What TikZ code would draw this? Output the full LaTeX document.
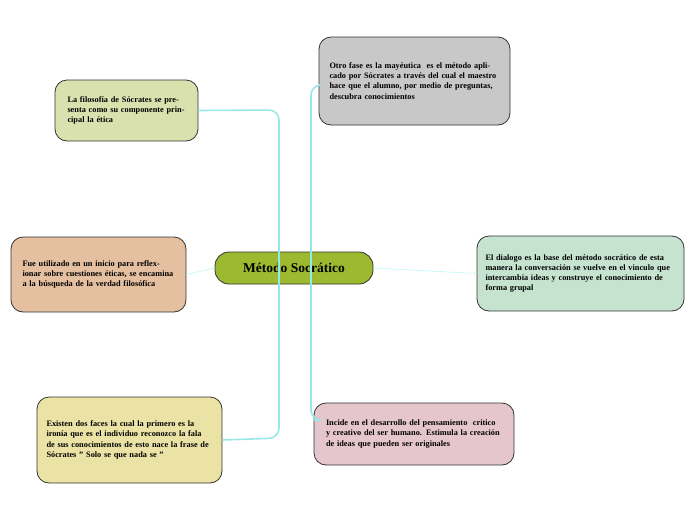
\documentclass[tikz,border=0pt]{standalone}
\usepackage{fontspec}
\setmainfont{Liberation Serif}
\begin{document}
\begin{tikzpicture}[x=1pt,y=-1pt,
 box/.style={draw=black!80,line width=0.8pt,rounded corners=12pt,font=\fontsize{8.3}{10.2}\selectfont\bfseries,align=left,inner sep=0pt},
 conn/.style={draw=teal!45!cyan!40,line width=1.6pt,rounded corners=10pt},
 thin/.style={draw=teal!30!cyan!20,line width=0.8pt}]
\useasboundingbox (0,0) rectangle (696,520);
\node[box,fill={rgb,255:red,217;green,226;blue,174},minimum width=143pt,minimum height=61pt,text width=118pt] (tl) at (126.5,110.5) {La filosofía de Sócrates se presenta como su componente principal la ética};
\node[box,fill={rgb,255:red,200;green,200;blue,200},minimum width=191pt,minimum height=88pt,text width=170pt] (tr) at (414.5,81) {Otro fase es la mayéutica\ \ es el método aplicado por Sócrates a través del cual el maestro hace que el alumno, por medio de preguntas, descubra conocimientos};
\node[box,fill={rgb,255:red,156;green,185;blue,47},rounded corners=14pt,minimum width=158pt,minimum height=32pt,font=\fontsize{13.5}{15}\selectfont\bfseries] (c) at (294,268) {Método Socrático};
\node[box,fill={rgb,255:red,228;green,191;blue,160},minimum width=175pt,minimum height=75pt,text width=152pt] (l) at (98.5,274.5) {Fue utilizado en un inicio para reflexionar sobre cuestiones éticas, se encamina a la búsqueda de la verdad filosófica};
\node[box,fill={rgb,255:red,197;green,227;blue,207},minimum width=207pt,minimum height=75pt,text width=190pt] (r) at (580.5,273.5) {El dialogo es la base del método socrático de esta manera la conversación se vuelve en el vinculo que intercambia ideas y construye el conocimiento de forma grupal};
\node[box,fill={rgb,255:red,235;green,227;blue,166},minimum width=185pt,minimum height=86pt,text width=166pt] (bl) at (129.5,440) {Existen dos faces la cual la primero es la ironía que es el individuo reconozco la fala de sus conocimientos de esto nace la frase de Sócrates " Solo se que nada se "};
\node[box,fill={rgb,255:red,229;green,198;blue,205},minimum width=200pt,minimum height=62pt,text width=176pt] (br) at (414,434) {Incide en el desarrollo del pensamiento\ \ critico y creativo del ser humano. Estimula la creación de ideas que pueden ser originales};
\begin{scope}[on background layer/.style={}]
\end{scope}
\coordinate (lt) at (279,268);
\coordinate (rt) at (311,268);
\draw[conn] (tl.east) -- (279,110) -- (279,438) -- (bl.east);
\draw[conn] (tr.west |- 0,85) -- (311,85) -- (311,420) -- (br.west |- 0,420);
\draw[thin] (l.east) -- (c.west);
\draw[thin] (c.east) -- (r.west);
\end{tikzpicture}
\end{document}
